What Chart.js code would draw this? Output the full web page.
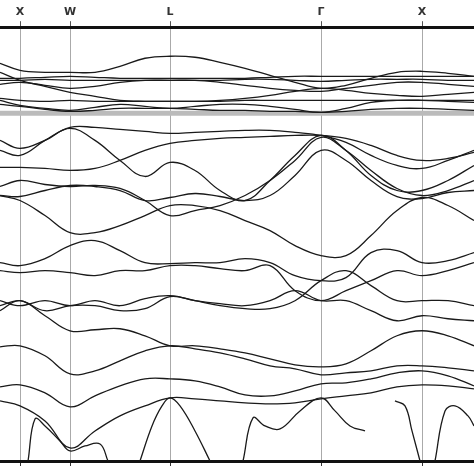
<!DOCTYPE html>
<html>
<head>
<meta charset="utf-8">
<script src="https://cdn.jsdelivr.net/npm/chart.js@4/dist/chart.umd.min.js"></script>
<style>
  html, body { margin: 0; padding: 0; background: #fff; }
  #wrap { width: 474px; height: 474px; }
</style>
</head>
<body>
<div id="wrap"><canvas id="bands"></canvas></div>
<script>
// high-symmetry points along the path
const kPoints = [20, 70, 170, 321, 422];
const kLabels = ['X', 'W', 'L', 'Γ', 'X'];

// common k grid for the bands
const kGrid = [0, 20, 45, 70, 95, 120, 145, 170, 195, 220, 245, 270, 295, 321, 346, 371, 397, 422, 448, 474];

// band energies (plotted downwards, upper bands first)
const bands = [
    [63, 70, 72, 72, 72, 66, 58, 56, 57, 62, 68, 75, 82, 88, 85, 78, 72, 71, 73, 76],
    [78, 78, 77, 76, 77, 78, 78, 78, 78, 78, 78, 77, 76, 76, 76, 76, 76, 76, 76, 76],
    [80, 80, 79, 80, 80, 80, 80, 80, 80, 80, 79, 79, 80, 81, 80, 79, 79, 79, 80, 80],
    [84, 82, 85, 88, 86, 82, 80, 80, 80, 82, 85, 88, 90, 91, 88, 85, 82, 82, 84, 86],
    [72, 80, 86, 92, 96, 100, 101, 101, 101, 100, 98, 95, 91, 88, 90, 93, 95, 96, 94, 92],
    [98, 100, 101, 100, 101, 101, 101, 101, 101, 101, 100, 100, 100, 100, 100, 100, 100, 100, 100, 100],
    [100, 105, 108, 110, 107, 104, 106, 108, 106, 104, 104, 106, 109, 112, 108, 102, 100, 100, 101, 102],
    [104, 106, 109, 111, 110, 108, 108, 108, 109, 110, 110, 111, 111, 112, 111, 109, 108, 108, 109, 110],
    [150, 155, 140, 127, 127, 129, 131, 133, 132, 131, 130, 130, 132, 135, 142, 155, 165, 168, 160, 150],
    [140, 148, 140, 128, 140, 160, 176, 162, 170, 190, 200, 180, 155, 135, 150, 175, 190, 190, 180, 165],
    [167, 167, 168, 170, 168, 160, 150, 143, 140, 138, 137, 136, 135, 135, 138, 145, 155, 160, 158, 152],
    [186, 180, 184, 186, 185, 188, 200, 215, 210, 205, 195, 180, 160, 137, 150, 170, 188, 195, 190, 180],
    [195, 196, 190, 185, 186, 190, 200, 197, 193, 196, 200, 195, 175, 150, 160, 180, 196, 198, 192, 190],
    [195, 200, 215, 232, 232, 225, 215, 205, 205, 210, 220, 230, 245, 255, 255, 235, 210, 197, 205, 220],
    [262, 265, 258, 245, 240, 250, 262, 263, 262, 262, 258, 262, 275, 280, 277, 252, 250, 262, 260, 252],
    [270, 272, 270, 272, 275, 270, 270, 265, 265, 268, 270, 265, 290, 300, 290, 280, 270, 275, 270, 262],
    [300, 305, 300, 305, 300, 305, 298, 295, 300, 305, 308, 308, 300, 280, 270, 285, 300, 300, 300, 305],
    [305, 300, 310, 305, 305, 310, 308, 296, 300, 303, 305, 300, 290, 300, 300, 310, 320, 315, 318, 320],
    [310, 300, 315, 330, 329, 328, 335, 345, 345, 348, 352, 358, 364, 366, 363, 350, 335, 330, 335, 345],
    [346, 345, 355, 373, 370, 360, 350, 345, 348, 352, 358, 365, 368, 374, 372, 370, 365, 365, 367, 370],
    [386, 384, 392, 406, 395, 385, 378, 378, 380, 386, 394, 395, 390, 383, 382, 378, 372, 370, 375, 385],
    [400, 405, 420, 447, 430, 415, 405, 397, 398, 400, 402, 403, 402, 398, 395, 392, 386, 384, 385, 388]
];

// short branches that dive out of the bottom of the frame
const arcK = [
    [28, 35, 45, 60, 70, 85, 100, 108],
    [140, 152, 162, 170, 180, 195, 210],
    [243, 253, 265, 280, 300, 321, 335, 350, 365],
    [395, 405, 412, 420],
    [435, 445, 455, 468, 474]
];
const arcE = [
    [460, 418, 425, 440, 450, 445, 443, 460],
    [460, 425, 405, 397, 405, 430, 460],
    [460, 417, 425, 428, 410, 397, 410, 425, 430],
    [400, 405, 430, 460],
    [460, 410, 405, 415, 425]
];

const datasets = [];
bands.forEach(function(b) {
    datasets.push({
        data: b.map((e, i) => ({ x: kGrid[i], y: e })),
        borderColor: '#1a1a1a', borderWidth: 1.3, pointRadius: 0, tension: 0.4, fill: false
    });
});
arcK.forEach(function(k, j) {
    datasets.push({
        data: k.map((x, i) => ({ x: x, y: arcE[j][i] })),
        borderColor: '#1a1a1a', borderWidth: 1.3, pointRadius: 0, tension: 0.4, fill: false
    });
});
// light grey strip under the flat upper bands
datasets.push({
    data: [{ x: 0, y: 113 }, { x: 474, y: 113 }],
    borderColor: '#bbbbbb', borderWidth: 5, pointRadius: 0, fill: false
});

new Chart(document.getElementById('bands'), {
    type: 'line',
    data: { datasets: datasets },
    options: {
        responsive: true, maintainAspectRatio: false, animation: false,
        layout: { padding: { top: 4, bottom: 8 } },
        plugins: { legend: { display: false }, tooltip: { enabled: false } },
        scales: {
            x: {
                type: 'linear', position: 'top', min: 0, max: 474,
                afterBuildTicks: function(axis) { axis.ticks = kPoints.map(v => ({ value: v })); },
                ticks: {
                    callback: function(v) { const i = kPoints.indexOf(v); return i >= 0 ? kLabels[i] : ''; },
                    font: { family: 'DejaVu Sans', size: 11, weight: 'bold' }, color: '#333', padding: 2, maxRotation: 0
                },
                grid: { color: '#aaaaaa', lineWidth: 1, tickLength: 6, tickColor: '#555' },
                border: { color: '#111', width: 3 }
            },
            x2: {
                type: 'linear', position: 'bottom', min: 0, max: 474,
                afterBuildTicks: function(axis) { axis.ticks = kPoints.map(v => ({ value: v })); },
                ticks: { display: false },
                grid: { drawOnChartArea: false, tickLength: 5, tickColor: '#333' },
                border: { color: '#111', width: 3 }
            },
            y: { display: false, reverse: true, min: 27, max: 460 }
        }
    }
});
</script>
</body>
</html>
